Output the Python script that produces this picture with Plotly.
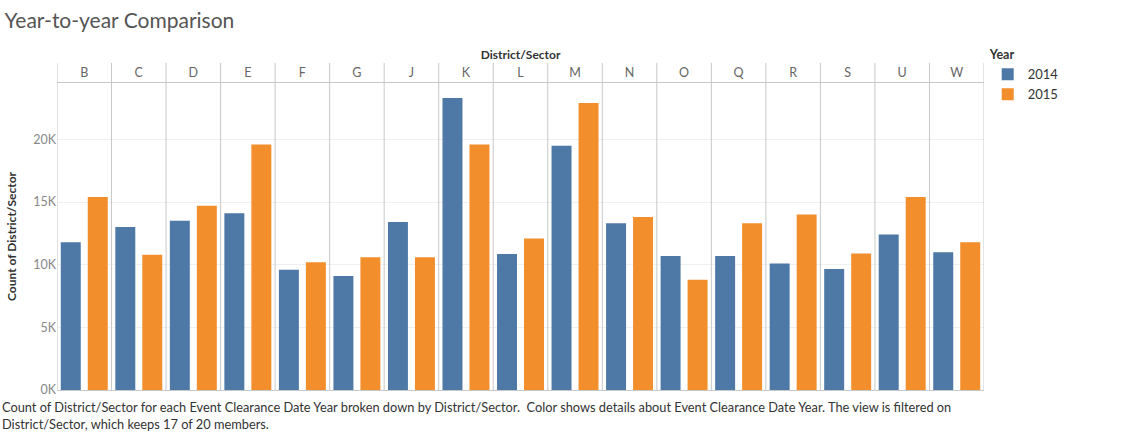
import plotly.graph_objects as go

districts = ["B", "C", "D", "E", "F", "G", "J", "K", "L", "M", "N", "O", "Q", "R", "S", "U", "W"]
count_2014 = [11800, 13000, 13500, 14100, 9600, 9100, 13400, 23300, 10850, 19500, 13300, 10700, 10700, 10100, 9650, 12400, 11000]
count_2015 = [15400, 10800, 14700, 19600, 10200, 10600, 10600, 19600, 12100, 22900, 13800, 8800, 13300, 14000, 10900, 15400, 11800]
tick_vals = [0, 5000, 10000, 15000, 20000]
tick_text = ["0K", "5K", "10K", "15K", "20K"]

BLUE = "#4e79a7"
ORANGE = "#f28e2b"
GRID = "#c8c8c8"
FONT = "Lato, 'Open Sans', sans-serif"

fig = go.Figure()
fig.add_trace(go.Bar(x=districts, y=count_2014, name="2014", marker=dict(color=BLUE, line=dict(width=0))))
fig.add_trace(go.Bar(x=districts, y=count_2015, name="2015", marker=dict(color=ORANGE, line=dict(width=0))))

plot_top, plot_bottom = 83, 390
plot_h = plot_bottom - plot_top
header_ext = 1 + 20 / plot_h

shapes = []
n = len(districts)
for i in range(n + 1):
    shapes.append(dict(type="line", xref="x", yref="paper", x0=i - 0.5, x1=i - 0.5,
                       y0=0, y1=header_ext, line=dict(color=GRID, width=1)))

fig.update_layout(
    width=1135, height=433,
    margin=dict(l=57, r=151, t=plot_top, b=433 - plot_bottom),
    paper_bgcolor="white", plot_bgcolor="white",
    font=dict(family=FONT, color="#666666", size=12),
    barmode="group", bargap=0.01, bargroupgap=0.26,
    showlegend=True,
    legend=dict(title=dict(text="<b>Year</b>", font=dict(size=12.5, color="#333333")),
                x=1.004, xanchor="left", y=1.13, yanchor="top",
                font=dict(size=13, color="#333333"), bgcolor="rgba(0,0,0,0)",
                itemclick=False, tracegroupgap=2),
    shapes=shapes,
    title=dict(text="Year-to-year Comparison", x=0.004, xanchor="left", xref="container",
               y=0.953, yanchor="middle", yref="container",
               font=dict(size=21, color="#555555", family=FONT)),
)

fig.update_xaxes(side="top", type="category", range=[-0.5, n - 0.5],
                 showline=True, mirror=True, linecolor=GRID, linewidth=1,
                 showgrid=False, ticks="", tickfont=dict(size=12.5, color="#666666"),
                 title=dict(text="<b>District/Sector</b>", font=dict(size=12, color="#333333"), standoff=2))
fig.update_yaxes(range=[0, 24500], tickvals=tick_vals, ticktext=tick_text,
                 showgrid=True, gridcolor="#f0f0f0", gridwidth=1,
                 zeroline=False, showline=False, ticks="",
                 tickfont=dict(size=12.5, color="#888888"),
                 title=dict(text="<b>Count of District/Sector</b>", font=dict(size=12, color="#333333"), standoff=14))

fig.add_annotation(
    text="Count of District/Sector for each Event Clearance Date Year broken down by District/Sector.  Color shows details about Event Clearance Date Year. The view is filtered on<br>District/Sector, which keeps 17 of 20 members.",
    xref="paper", yref="paper", x=-57 / 927, xanchor="left", y=-(397 - plot_bottom) / plot_h, yanchor="top",
    align="left", showarrow=False, font=dict(size=12.8, color="#333333"))

fig.write_html("out.html")
